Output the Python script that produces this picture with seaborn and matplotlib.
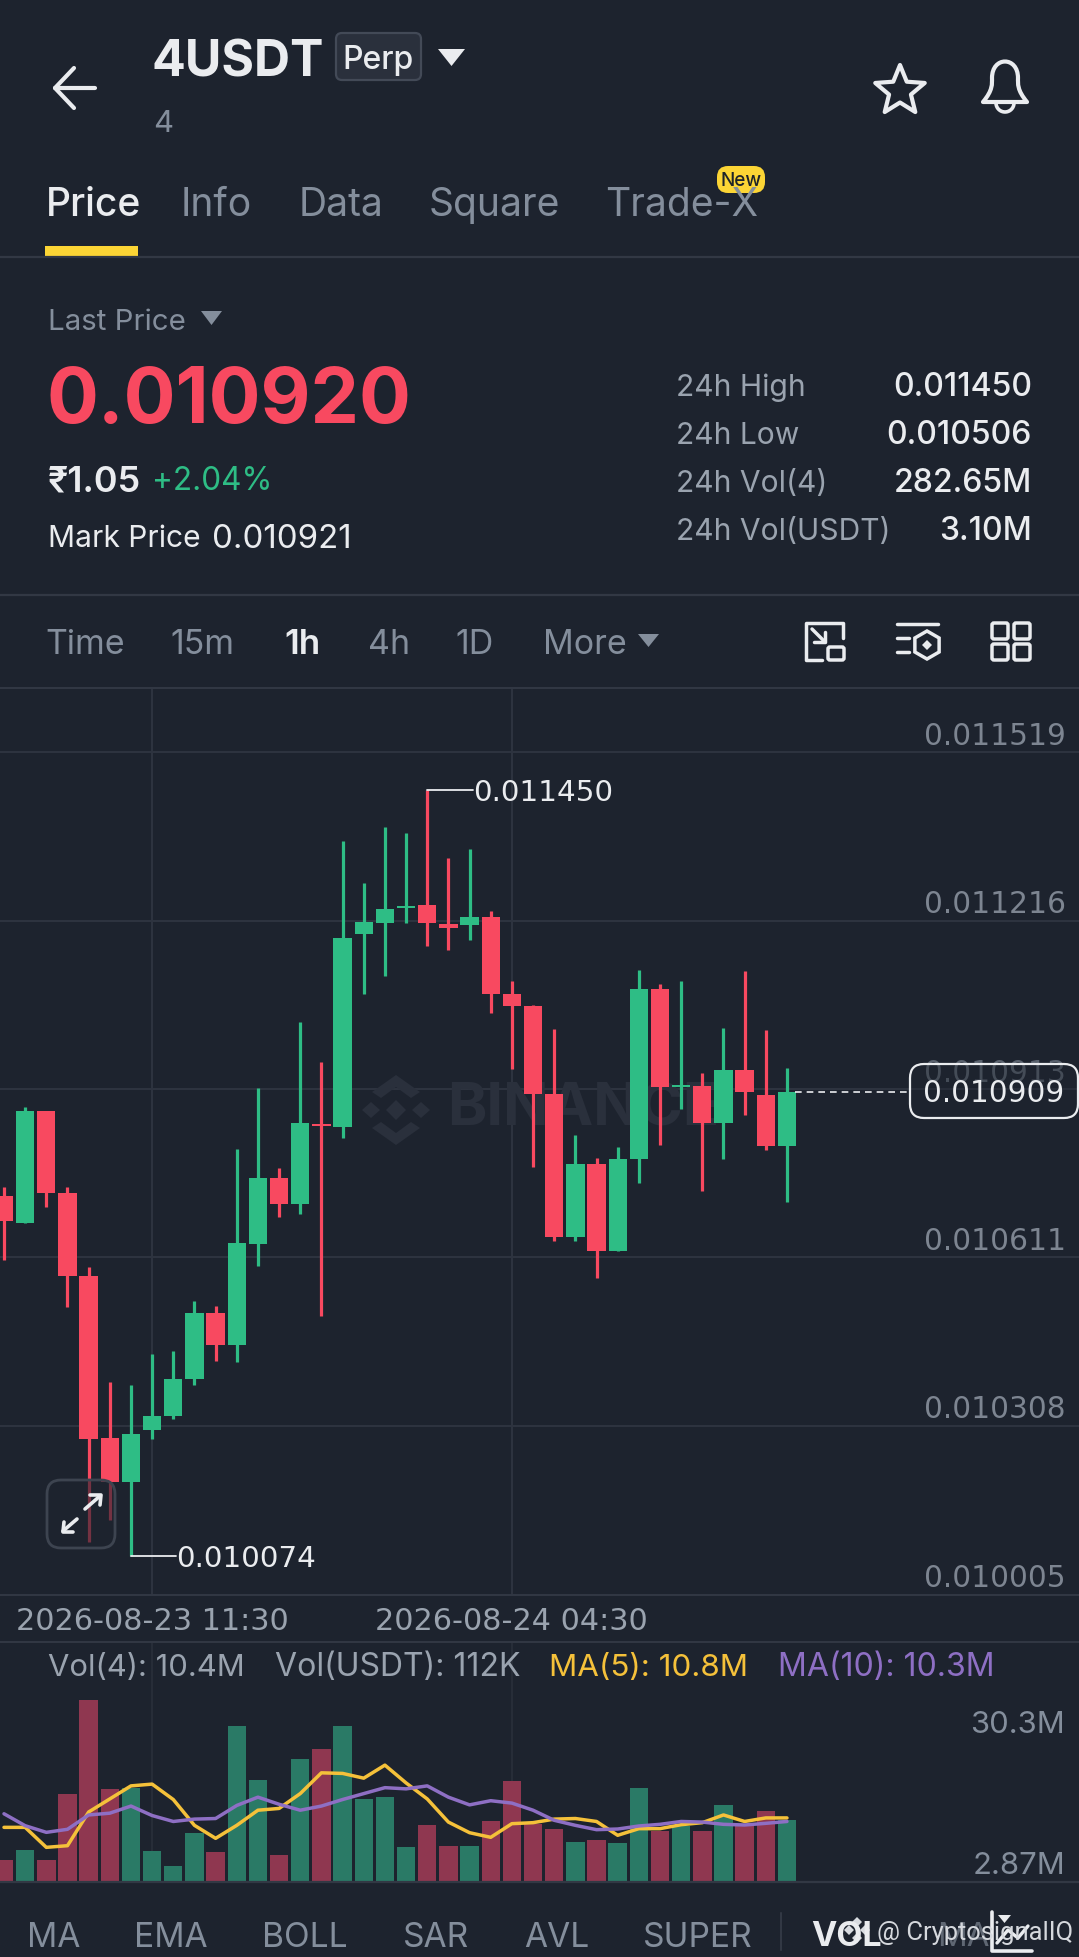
import numpy as np
import pandas as pd
import matplotlib
matplotlib.use("Agg")
import matplotlib.pyplot as plt
import seaborn as sns
from matplotlib.patches import FancyBboxPatch, Polygon, Rectangle, PathPatch
from matplotlib.path import Path

# candle data, prices in millionths
opens = [10721, 10672, 10874, 10726, 10578, 10286, 10207, 10300, 10325, 10393,
         10510, 10453, 10635, 10753, 10706, 10851, 10846, 11192, 11211, 11239,
         11244, 11210, 11209, 11223, 11084, 11062, 10905, 10647, 10779, 10622,
         10787, 11093, 10917, 10919, 10852, 10948, 10903, 10811]
closes = [10676, 10874, 10726, 10578, 10285, 10207, 10293, 10325, 10393, 10510,
          10453, 10637, 10753, 10706, 10852, 10847, 11185, 11213, 11237, 11243,
          11211, 11202, 11223, 11084, 11062, 10905, 10647, 10779, 10622, 10787,
          11093, 10917, 10921, 10852, 10948, 10908, 10811, 10908]
highs = [10737, 10881, 10874, 10737, 10593, 10386, 10381, 10438, 10442, 10533,
         10523, 10806, 10915, 10772, 11034, 10962, 11359, 11284, 11385, 11373,
         11450, 11329, 11345, 11233, 11108, 11065, 11022, 10831, 10789, 10809,
         11127, 11103, 11108, 10943, 11023, 11125, 11019, 10952]
lows = [10607, 10672, 10701, 10522, 10100, 10139, 10074, 10285, 10321, 10381,
        10425, 10423, 10596, 10683, 10688, 10506, 10826, 11085, 11117, 11211,
        11170, 11163, 11182, 11050, 10949, 10774, 10640, 10640, 10573, 10622,
        10745, 10812, 10877, 10730, 10788, 10866, 10803, 10710]

# volume in millions
volume = [3.76, 5.45, 3.76, 14.8, 30.6, 15.7, 15.9, 5.17, 2.7, 8.2,
          5.06, 26.3, 17.2, 4.55, 20.7, 22.5, 26.3, 14.0, 14.4, 5.96,
          9.66, 6.0, 6.07, 10.2, 17.1, 9.83, 8.93, 6.8, 7.13, 6.63,
          15.9, 8.6, 9.38, 8.6, 12.9, 9.55, 12.0, 10.4]
ma5 = [9.21, 9.21, 5.84, 6.12, 11.8, 14.0, 16.2, 16.5, 13.9, 9.55,
       7.36, 9.55, 12.1, 12.4, 14.9, 18.4, 18.3, 17.5, 19.7, 16.7,
       14.0, 10.1, 8.31, 7.53, 9.83, 10.0, 10.6, 10.7, 10.2, 7.87,
       8.99, 8.99, 9.66, 10.0, 11.3, 10.2, 10.8, 10.8]
ma10 = [11.5, 9.49, 8.37, 8.88, 11.3, 11.6, 12.8, 11.2, 10.2, 10.6,
        10.7, 12.9, 14.3, 13.1, 12.1, 12.8, 13.9, 14.9, 15.9, 15.7,
        16.2, 14.3, 13.0, 13.7, 13.3, 12.1, 10.4, 9.55, 8.82, 8.93,
        9.44, 9.72, 10.2, 10.1, 9.72, 9.61, 9.89, 10.2]

price_ticks = [0.011519, 0.011216, 0.010913, 0.010611, 0.010308, 0.010005]
price_labels = ["0.011519", "0.011216", "0.010913", "0.010611", "0.010308", "0.010005"]
date_pos = [7, 24]
date_labels = ["2026-08-23 11:30", "2026-08-24 04:30"]
tabs = ["Price", "Info", "Data", "Square", "Trade-X"]
tab_x = [46, 181, 299, 429, 605]
ranges = ["Time", "15m", "1h", "4h", "1D", "More"]
range_x = [45, 170, 284, 368, 455, 543]
stat_names = ["24h High", "24h Low", "24h Vol(4)", "24h Vol(USDT)"]
stat_values = ["0.011450", "0.010506", "282.65M", "3.10M"]
indicators = ["MA", "EMA", "BOLL", "SAR", "AVL", "SUPER"]
indicator_x = [27, 134, 262, 403, 524, 643]

BG = "#1d232e"
LINE = "#323844"
GRID = "#2e3440"
GRAY = "#848e9c"
LIGHT = "#9aa3af"
WHITE = "#eaecef"
RED = "#f84960"
GREEN = "#2ebd85"
W, H = 1079, 1957

sns.set_theme(style="dark", rc={"figure.facecolor": BG, "axes.facecolor": BG})
plt.rcParams["font.family"] = ["Inter", "DejaVu Sans"]

fig = plt.figure(figsize=(W / 100, H / 100), dpi=100)


def box(top, bottom):
    return [0, 1 - bottom / H, 1, (bottom - top) / H]


# price panel
ax = fig.add_axes(box(688, 1594.5))
idx = np.arange(len(opens))
o = np.array(opens) / 1e6
c = np.array(closes) / 1e6
hi = np.array(highs) / 1e6
lo = np.array(lows) / 1e6
colors = [GREEN if b >= a else RED for a, b in zip(o, c)]

ax.vlines(idx, lo, hi, colors=colors, lw=2.3, zorder=3)
ax.bar(idx, np.abs(c - o), bottom=np.minimum(o, c), width=0.865, color=colors, edgecolor="none", zorder=4)

ax.set_xlim(-0.189, 50.8)
ax.set_ylim(0.010005, 0.011519 + 64 * 1.798e-6)
ax.set_yticks(price_ticks)
ax.set_yticklabels([])
ax.set_xticks(date_pos, date_labels, family="DejaVu Sans")
ax.tick_params(axis="x", length=0, pad=9, labelsize=21.8, labelcolor=LIGHT)
ax.tick_params(axis="y", length=0)
ax.grid(True, color=GRID, lw=1.4, zorder=0)
for s in ax.spines.values():
    s.set_visible(False)

for p, lab in zip(price_ticks, price_labels):
    dim = lab == "0.010913"
    ax.annotate(lab, xy=(1, p), xycoords=ax.get_yaxis_transform(), xytext=(-13, 16),
                textcoords="offset pixels", ha="right", va="center", fontsize=21.3,
                family="DejaVu Sans", color="#5a626e" if dim else "#7d8591", zorder=2)

# max / min callouts
i_max = int(np.argmax(hi))
i_min = int(np.argmin(lo))
for i, val, side in [(i_max, hi[i_max], "0.011450"), (i_min, lo[i_min], "0.010074")]:
    ax.plot([i, i + 2.15], [val, val], color=WHITE, lw=1.3, zorder=6)
    ax.annotate(side, xy=(i + 2.15, val), xytext=(0, -3), textcoords="offset pixels",
                va="center", ha="left", fontsize=21.2, family="DejaVu Sans", color=WHITE, zorder=6)

# volume panel
ax2 = fig.add_axes(box(1642, 1882))
vol_df = pd.DataFrame({"idx": idx, "vol": volume,
                       "dir": ["up" if b >= a else "down" for a, b in zip(o, c)]})
sns.barplot(data=vol_df, x="idx", y="vol", hue="dir", native_scale=True, dodge=False,
            palette={"up": "#2a7a66", "down": "#8f3750"}, width=0.87, saturation=1,
            edgecolor="none", linewidth=0, legend=False, ax=ax2, zorder=3)
sns.lineplot(x=idx, y=ma5, color="#f5c13a", lw=2.5, ax=ax2, zorder=4)
sns.lineplot(x=idx, y=ma10, color="#8e6fc4", lw=2.5, ax=ax2, zorder=5)
ax2.set_xlim(-0.189, 50.8)
ax2.set_ylim(0, 40.45)
ax2.set_xticks(date_pos)
ax2.set_xticklabels([])
ax2.set_yticks([])
ax2.set_xlabel("")
ax2.set_ylabel("")
ax2.tick_params(length=0)
ax2.grid(True, axis="x", color="#2a303b", lw=1.2, zorder=0)
for s in ax2.spines.values():
    s.set_visible(False)

# overlay in image pixels for the app chrome
ui = fig.add_axes([0, 0, 1, 1], facecolor="none")
ui.set_xlim(0, W)
ui.set_ylim(H, 0)
ui.axis("off")
ui.set_zorder(10)


def txt(x, y, s, px, color=WHITE, ha="left", weight="normal", family=None, **kw):
    if family is None:
        family = ["Inter", "DejaVu Sans"]
    return ui.text(x, y, s, fontsize=px * 0.72, color=color, ha=ha, va="center",
                   fontweight=weight, family=family, **kw)


def seg(xs, ys, color=WHITE, lw=2.4, **kw):
    ui.plot(xs, ys, color=color, lw=lw, solid_capstyle="round", solid_joinstyle="round", **kw)


def tri(x0, x1, y0, y1, color):
    ui.add_patch(Polygon([(x0, y0), (x1, y0), ((x0 + x1) / 2, y1)], closed=True, fc=color, ec="none"))


def rbox(x0, y0, x1, y1, r, ec=WHITE, fc="none", lw=2.0, **kw):
    ui.add_patch(FancyBboxPatch((x0 + r, y0 + r), x1 - x0 - 2 * r, y1 - y0 - 2 * r,
                                boxstyle=f"round,pad={r},rounding_size={r}", ec=ec, fc=fc, lw=lw, **kw))


# header
seg([55, 95], [88, 88], lw=3)
seg([74, 55, 74], [68, 88, 108], lw=3)
txt(152, 63, "4USDT", 50, weight="bold")
rbox(336, 33, 421, 80, 6, ec="#434a57", fc="#2a303c", lw=1.6)
txt(378, 60, "Perp", 32, ha="center", weight="medium")
tri(438, 465, 49, 66, WHITE)
txt(153, 124, "4", 31, color=GRAY)

t = np.linspace(np.pi / 2, np.pi / 2 + 2 * np.pi, 11)[:-1]
rad = np.where(np.arange(10) % 2 == 0, 26, 11.5)
ui.add_patch(Polygon(np.c_[900 + rad * np.cos(t), 91 - rad * np.sin(t)], closed=True, fc="none", ec=WHITE, lw=3, joinstyle="round"))
bell = Path([(983, 102), (993, 90), (992, 84), (992, 78), (992, 56), (1018, 56), (1018, 78),
             (1018, 84), (1017, 90), (1027, 102), (983, 102)],
            [Path.MOVETO, Path.CURVE4, Path.CURVE4, Path.CURVE4, Path.CURVE4, Path.CURVE4, Path.CURVE4,
             Path.CURVE4, Path.CURVE4, Path.CURVE4, Path.CLOSEPOLY])
ui.add_patch(PathPatch(bell, fc="none", ec=WHITE, lw=3, joinstyle="round"))
a = np.linspace(0, np.pi, 20)
seg(1005 + 9 * np.cos(a), 103 + 9 * np.sin(a), lw=2.6)

# tabs
for name, x in zip(tabs, tab_x):
    txt(x, 205, name, 39, color=WHITE if name == "Price" else GRAY, weight="medium" if name == "Price" else "normal")
ui.add_patch(Rectangle((45, 246), 93, 10, fc="#fcd535", ec="none"))
rbox(717, 166, 765, 193, 11, ec="none", fc="#fcd535", lw=0)
txt(741, 181, "New", 19, color="#1e2329", ha="center", weight="medium")
seg([0, W], [257, 257], color=LINE, lw=1.6)

# price block
txt(48, 322, "Last Price", 29.5, color=GRAY)
tri(201, 222, 311, 325, GRAY)
txt(47, 403, "0.010920", 77, color=RED, weight="bold")
txt(48, 482, "₹1.05", 36, weight="semibold")
txt(152, 482, "+2.04%", 31.5, color=GREEN)
txt(48, 539, "Mark Price", 30)
txt(212, 539, "0.010921", 33)
for k, (name, val) in enumerate(zip(stat_names, stat_values)):
    y = 388 + 48 * k
    txt(676, y, name, 30, color=LIGHT)
    txt(1032, y, val, 32, ha="right", weight="medium")
seg([0, W], [595, 595], color=LINE, lw=1.6)

# range selector
for name, x in zip(ranges, range_x):
    txt(x, 645, name, 35 if name == "1h" else 34, color=WHITE if name == "1h" else GRAY, weight="semibold" if name == "1h" else "normal")
tri(638, 659, 634, 647, GRAY)
seg([822, 806, 806, 843, 843], [660, 660, 623, 623, 638], lw=2.5)
rbox(828, 647, 844, 660, 2, lw=2.5)
seg([812, 825], [629, 642], lw=2.5)
seg([814, 825, 825], [642, 642, 632], lw=2.5)
seg([897, 938], [624, 624], lw=2.5)
seg([897, 909], [638, 638], lw=2.5)
seg([897, 909], [652, 652], lw=2.5)
t6 = np.linspace(np.pi / 2, np.pi / 2 + 2 * np.pi, 7)[:-1]
ui.add_patch(Polygon(np.c_[927 + 14 * np.cos(t6), 645 + 14 * np.sin(t6)], closed=True, fc="none", ec=WHITE, lw=2.5))
ui.add_patch(Polygon([(927, 640), (932, 645), (927, 650), (922, 645)], closed=True, fc=WHITE, ec="none"))
for x0 in (992, 1014):
    for y0 in (623, 644):
        rbox(x0, y0, x0 + 16, y0 + 16, 2, lw=2.5)
seg([0, W], [688, 688], color=LINE, lw=1.4)

# BINANCE watermark, under the candles
ax.text(447, 1110, "BINANCE", transform=ui.transData, fontsize=43, fontweight="bold", color="#2a303c", va="center", zorder=1)
for pts in ([(396, 1100), (406, 1110), (396, 1120), (386, 1110)],
            [(396, 1075), (420, 1092), (411, 1098), (396, 1087), (381, 1098), (372, 1092)],
            [(396, 1145), (420, 1128), (411, 1122), (396, 1133), (381, 1122), (372, 1128)],
            [(362, 1110), (371, 1102), (380, 1110), (371, 1118)],
            [(430, 1110), (421, 1102), (412, 1110), (421, 1118)]):
    ax.add_patch(Polygon(pts, closed=True, fc="#2a303c", ec="none", transform=ui.transData, zorder=1))

# current price tag
ui.plot([795, 909], [1092, 1092], color=WHITE, lw=1.2, ls=(0, (4, 3)))
rbox(910, 1064, 1078, 1118, 14, ec=WHITE, fc=(0.114, 0.137, 0.18, 0.35), lw=1.6)
txt(994, 1094, "0.010909", 29.5, ha="center", family="DejaVu Sans")

# expand button
rbox(47, 1480, 115, 1548, 14, ec="#3d4450", fc=(0.114, 0.137, 0.18, 0.6), lw=2)
seg([63, 77], [1531, 1519], lw=2.6)
seg([64, 63, 73], [1522, 1532, 1532], lw=2.6)
seg([85, 100], [1509, 1496], lw=2.6)
seg([90, 101, 100], [1495, 1495, 1505], lw=2.6)

# dividers around date strip
seg([0, W], [1594.5, 1594.5], color=LINE, lw=1.4)
seg([0, W], [1642, 1642], color=LINE, lw=1.4)
seg([0, W], [1882, 1882], color=LINE, lw=1.6)

# volume header and scale
txt(48, 1668, "Vol(4): 10.4M", 31, color=LIGHT)
txt(275, 1668, "Vol(USDT): 112K", 32, color=LIGHT)
txt(549, 1668, "MA(5): 10.8M", 31.4, color="#f5c13a")
txt(778, 1668, "MA(10): 10.3M", 32, color="#8e6fc4")
txt(1065, 1725, "30.3M", 31, color=GRAY, ha="right")
txt(1065, 1866, "2.87M", 31, color=GRAY, ha="right")

# bottom bar
for name, x in zip(indicators, indicator_x):
    txt(x, 1938, name, 33.5, color=GRAY)
seg([781, 781], [1913, 1950], color=LINE, lw=1.5)
txt(811, 1937, "VOL", 34, weight="bold")
txt(937, 1938, "MA", 33, color="#5f6773")
for pts in ([(857, 1917), (862, 1922), (857, 1927), (852, 1922)],
            [(857, 1933), (862, 1938), (857, 1943), (852, 1938)],
            [(849, 1925), (854, 1930), (849, 1935), (844, 1930)],
            [(865, 1925), (870, 1930), (865, 1935), (860, 1930)]):
    ui.add_patch(Polygon(pts, closed=True, fc="#d8dbe0", ec="none"))
seg([992, 992, 1032], [1912, 1951, 1951], lw=2.6)
tri(998, 1011, 1915, 1923, WHITE)
seg([997, 1008, 1018, 1028], [1943, 1930, 1938, 1926], lw=2.4)
txt(877, 1933, "@ CryptosignalIQ", 25.5, color="#d5d8dd", family="Roboto")

fig.savefig("out.png", dpi=100, facecolor=BG)
